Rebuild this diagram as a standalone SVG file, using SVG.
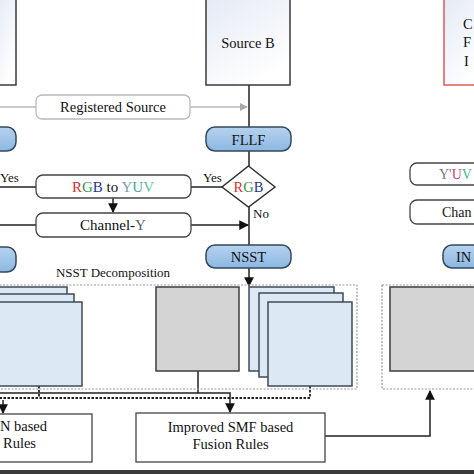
<svg xmlns="http://www.w3.org/2000/svg" width="474" height="474" viewBox="0 0 474 474">
<defs>
<linearGradient id="gSrc" x1="0" y1="0" x2="0.6" y2="1"><stop offset="0" stop-color="#e4eaf5"/><stop offset="1" stop-color="#ffffff"/></linearGradient>
<linearGradient id="gPill" x1="0" y1="0" x2="0" y2="1"><stop offset="0" stop-color="#b6d2ee"/><stop offset="1" stop-color="#8cb8e2"/></linearGradient>
<marker id="aBlk" viewBox="0 0 10 10" refX="9" refY="5" markerWidth="6.5" markerHeight="6.5" orient="auto-start-reverse"><path d="M0,0 L10,5 L0,10 z" fill="#111"/></marker>
<marker id="aGry" viewBox="0 0 10 10" refX="9" refY="5" markerWidth="6" markerHeight="6" orient="auto"><path d="M0,0 L10,5 L0,10 z" fill="#aaa"/></marker>
<style>
text{font-family:"Liberation Serif","Times New Roman",serif;fill:#111}
.src{fill:url(#gSrc);stroke:#3a3a3a;stroke-width:1.5}
.pill{fill:url(#gPill);stroke:#34485c;stroke-width:1.5}
.rbox{fill:#fff;stroke:#444;stroke-width:1.3}
.box{fill:#fff;stroke:#444;stroke-width:1.3}
.blue{fill:#dce8f4;stroke:#3e4a58;stroke-width:1.5}
.gray{fill:#d4d4d4;stroke:#3e3e3e;stroke-width:1.5}
.dot{fill:none;stroke:#9a9a9a;stroke-width:1.2;stroke-dasharray:2 1.5}
.ln{fill:none;stroke:#222;stroke-width:1.5}
.dln{fill:none;stroke:#222;stroke-width:1.8;stroke-dasharray:2.5 1.5}
.gl{fill:none;stroke:#b8b8b8;stroke-width:1.3}
.t14{font-size:14.5px}
.t13{font-size:13px}
</style>
</defs>
<rect x="0" y="0" width="474" height="474" fill="#fff"/>

<g id="connectors">
<line class="gl" x1="0" y1="107" x2="36" y2="107"/>
<line class="gl" x1="190" y1="107" x2="247" y2="107" marker-end="url(#aGry)"/>
<line class="ln" x1="249" y1="85" x2="249" y2="127"/>
<line class="ln" x1="249" y1="151" x2="249" y2="166"/>
<line class="ln" x1="222" y1="187" x2="191" y2="187"/>
<line class="ln" x1="0" y1="187" x2="36" y2="187"/>
<line class="ln" x1="113" y1="198" x2="113" y2="212" marker-end="url(#aBlk)"/>
<line class="ln" x1="0" y1="225" x2="36" y2="225"/>
<line class="ln" x1="191" y1="225" x2="248" y2="225" marker-end="url(#aBlk)"/>
<line class="ln" x1="249" y1="207" x2="249" y2="245"/>
<line class="ln" x1="249" y1="268" x2="249" y2="286" marker-end="url(#aBlk)"/>
<path class="ln" d="M198,371 V393 M0,393 H230 V412" marker-end="url(#aBlk)"/>
<path class="dln" d="M39,386 V397"/>
<path class="dln" d="M310,386 V398 H0"/>
<path class="ln" d="M3,400 V413" marker-end="url(#aBlk)"/>
<path class="ln" d="M325,436 H430 V391" marker-end="url(#aBlk)"/>
</g>

<g id="sourceA"><rect class="src" x="-4" y="-4" width="20" height="89"/></g>
<g id="sourceB"><rect class="src" x="206" y="-4" width="84" height="89"/><text class="t14" x="248" y="48" text-anchor="middle">Source B</text></g>
<g id="fused"><rect x="444" y="-4" width="40" height="89" fill="url(#gSrc)" stroke="#e05a5a" stroke-width="1.5"/>
<text class="t14" x="463" y="29">C</text><text class="t14" x="463" y="47">F</text><text class="t14" x="464" y="66">I</text></g>

<g id="registered"><rect x="36" y="95" width="154" height="24" rx="6" fill="#fff" stroke="#bbb" stroke-width="1.3"/><text class="t14" x="113" y="112" text-anchor="middle">Registered Source</text></g>

<g id="pillA1"><rect class="pill" x="-20" y="127" width="36" height="24" rx="9"/></g>
<g id="fllf"><rect class="pill" x="206" y="127" width="85" height="24" rx="9"/><text class="t14" x="248.5" y="144.5" text-anchor="middle" fill="#1c2a3c">FLLF</text></g>

<g id="diamond"><path d="M248.5,166 L275,187 L248.5,207 L222,187 Z" fill="#fff" stroke="#333" stroke-width="1.5"/>
<text class="t14" x="248.5" y="192" text-anchor="middle"><tspan fill="#d83030">R</tspan><tspan fill="#2f9a3c">G</tspan><tspan fill="#2a3490">B</tspan></text></g>
<text class="t13" x="203" y="182">Yes</text>
<text class="t13" x="0" y="182">Yes</text>
<text class="t13" x="253" y="218">No</text>

<g id="rgb2yuv"><rect class="rbox" x="36" y="175" width="155" height="23" rx="7"/>
<text x="113" y="192" text-anchor="middle" font-size="15"><tspan fill="#d83030">R</tspan><tspan fill="#2f9a3c">G</tspan><tspan fill="#2a3490">B</tspan> to <tspan fill="#7a9ea8">Y</tspan><tspan fill="#4aa6a0">U</tspan><tspan fill="#62bf9a">V</tspan></text></g>
<g id="channelY"><rect class="rbox" x="36" y="213" width="155" height="24" rx="7"/>
<text x="113" y="230" text-anchor="middle" font-size="15">Channel-<tspan fill="#5a6070">Y</tspan></text></g>

<g id="pillA2"><rect class="pill" x="-20" y="247" width="36" height="25" rx="9"/></g>
<g id="nsst"><rect class="pill" x="206" y="245" width="85" height="23" rx="9"/><text class="t14" x="248.5" y="262" text-anchor="middle" fill="#1c2a3c">NSST</text></g>

<g id="yuvInv"><rect class="rbox" x="410" y="163" width="80" height="22" rx="7"/>
<text x="439" y="179" font-size="14"><tspan fill="#7a7a7a">Y'</tspan><tspan fill="#d03a7a">U</tspan><tspan fill="#3fbf7a">V</tspan></text></g>
<g id="channelInv"><rect class="rbox" x="410" y="200" width="80" height="24" rx="7"/><text x="442" y="217" font-size="14">Chan</text></g>
<g id="insst"><rect class="pill" x="443" y="245" width="50" height="23" rx="9"/><text class="t14" x="456" y="262" fill="#1c2a3c">IN</text></g>

<text class="t13" x="113" y="277" text-anchor="middle">NSST Decomposition</text>

<g id="decompA"><rect class="dot" x="-4" y="285" width="361" height="104"/>
<rect class="blue" x="-17" y="287" width="84" height="84"/>
<rect class="blue" x="-10" y="294" width="84" height="84"/>
<rect class="blue" x="-2" y="302" width="84" height="84"/>
<rect class="gray" x="156" y="287" width="83" height="84"/>
<rect class="blue" x="249" y="287" width="85" height="84"/>
<rect class="blue" x="259" y="293" width="84" height="84"/>
<rect class="blue" x="268" y="302" width="84" height="84"/>
</g>

<g id="recon"><rect class="dot" x="382" y="285" width="100" height="104"/>
<rect class="gray" x="390" y="287" width="90" height="84"/></g>

<g id="pcnn"><rect class="box" x="-100" y="414" width="192" height="48"/>
<text class="t14" x="47" y="431" text-anchor="end">N based</text>
<text class="t14" x="36" y="448" text-anchor="end">Rules</text></g>
<g id="smf"><rect class="box" x="136" y="413" width="189" height="49"/>
<text class="t14" x="230.5" y="432" text-anchor="middle">Improved SMF based</text>
<text class="t14" x="230.5" y="449" text-anchor="middle">Fusion Rules</text></g>

<rect x="0" y="470" width="474" height="4" fill="#3a3a3a"/>
</svg>
